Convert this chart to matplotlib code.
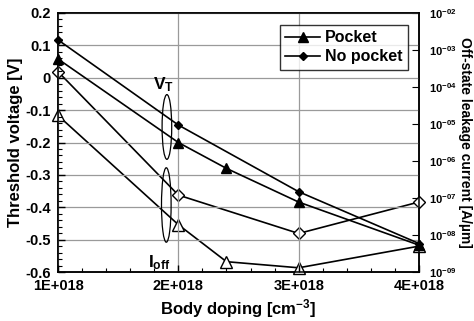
import matplotlib.pyplot as plt
from matplotlib.patches import Ellipse
from matplotlib.ticker import MultipleLocator, FixedLocator

plt.rcParams['font.family'] = ['Liberation Sans', 'DejaVu Sans']
plt.rcParams['font.weight'] = 'bold'
plt.rcParams['mathtext.fontset'] = 'custom'
plt.rcParams['mathtext.rm'] = 'Liberation Sans:bold'
plt.rcParams['mathtext.bf'] = 'Liberation Sans:bold'
plt.rcParams['mathtext.it'] = 'Liberation Sans:bold'
plt.rcParams['mathtext.default'] = 'rm'

# body doping (cm^-3)
doping_pocket = [1e18, 2e18, 2.4e18, 3e18, 4e18]
doping_nopocket = [1e18, 2e18, 3e18, 4e18]

# threshold voltage [V]
vt_pocket = [0.058, -0.200, -0.280, -0.384, -0.517]
vt_nopocket = [0.117, -0.146, -0.352, -0.512]

# off-state leakage [A/um]
ioff_pocket = [1.7e-5, 1.9e-8, 1.9e-9, 1.3e-9, 5.0e-9]
ioff_nopocket = [2.6e-4, 1.2e-7, 1.1e-8, 7.8e-8]

xticks = [1e18, 2e18, 3e18, 4e18]
xtick_labels = ['1E+018', '2E+018', '3E+018', '4E+018']
decades = [-9, -8, -7, -6, -5, -4, -3, -2]

fig = plt.figure(figsize=(4.74, 3.21), dpi=100)
ax = fig.add_axes([58/474, 1-272/321, (419-58)/474, (272-13)/321])
ax2 = ax.twinx()

ax.set_xlim(1e18, 4e18)
ax.set_ylim(-0.6, 0.2)
ax2.set_yscale('log')
ax2.set_ylim(1e-9, 1e-2)

ax.set_xticks(xticks)
ax.set_xticklabels(xtick_labels)
ax.xaxis.set_minor_locator(MultipleLocator(0.2e18))
ax.yaxis.set_major_locator(MultipleLocator(0.1))
ax.yaxis.set_minor_locator(MultipleLocator(0.02))
ax.set_yticklabels(['%g' % round(v, 1) for v in ax.get_yticks()])

ax.grid(True, which='major', color='#9a9a9a', lw=0.9)
ax.set_axisbelow(True)

ax.tick_params(which='both', direction='in', labelsize=10.5, top=False)
ax.tick_params(which='major', length=5, width=1)
ax.tick_params(which='minor', length=3, width=0.8)
ax.tick_params(axis='y', pad=5)
ax.tick_params(axis='x', pad=5)

ax2.yaxis.set_major_locator(FixedLocator([10.0**d for d in decades]))
ax2.yaxis.set_minor_locator(FixedLocator([]))
ax2.set_yticklabels(['10$^{%03d}$' % d for d in decades])
ax2.tick_params(which='both', direction='in', length=5, labelsize=8, pad=7)

for a in (ax, ax2):
    for s in a.spines.values():
        s.set_linewidth(1.1)

# threshold voltage curves (filled markers)
ax.plot(doping_pocket, vt_pocket, '-', color='black', lw=1.2,
        marker='^', ms=7, mfc='black', mec='black', clip_on=False, zorder=5,
        label='Pocket')
ax.plot(doping_nopocket, vt_nopocket, '-', color='black', lw=1.2,
        marker='D', ms=4.5, mfc='black', mec='black', clip_on=False, zorder=5,
        label='No pocket')

# leakage curves (open markers)
ax2.plot(doping_pocket, ioff_pocket, '-', color='black', lw=1.2,
         marker='^', ms=9, mfc='white', mec='black', mew=1, clip_on=False, zorder=5)
ax2.plot(doping_nopocket, ioff_nopocket, '-', color='black', lw=1.2,
         marker='D', ms=6.5, mfc='white', mec='black', mew=1, clip_on=False, zorder=5)

# ellipses marking each group
ax.add_patch(Ellipse((1.905e18, -0.152), 0.08e18, 0.20, fill=False,
                     ec='black', lw=0.9, zorder=6))
ax.add_patch(Ellipse((1.90e18, -0.393), 0.08e18, 0.23, fill=False,
                     ec='black', lw=0.9, zorder=6))
ax.text(1.79e18, -0.035, 'V$_{\\mathrm{T}}$', fontsize=12.5, fontweight='bold')
ax.text(1.75e18, -0.585, 'I$_{\\mathrm{off}}$', fontsize=12.5, fontweight='bold')

leg = ax.legend(loc='upper right', bbox_to_anchor=(0.97, 0.955), fontsize=11.5,
                frameon=True, fancybox=False, edgecolor='black',
                handlelength=2.2, handletextpad=0.3, borderpad=0.35,
                labelspacing=0.25, borderaxespad=0)
leg.get_frame().set_linewidth(1.0)
leg.set_zorder(10)

ax.set_xlabel('Body doping [cm$^{-3}$]', fontsize=12, fontweight='bold', labelpad=3)
ax.set_ylabel('Threshold voltage [V]', fontsize=12, fontweight='bold', labelpad=2)
ax2.set_ylabel('Off-state leakage current [A/\u00b5m]', fontsize=10,
               fontweight='bold', rotation=270, ha='center', va='center')
ax2.yaxis.set_label_coords(1.128, 0.5)

ax.set_zorder(ax2.get_zorder() + 1)
ax.patch.set_visible(False)

fig.savefig('out.png', dpi=100)
